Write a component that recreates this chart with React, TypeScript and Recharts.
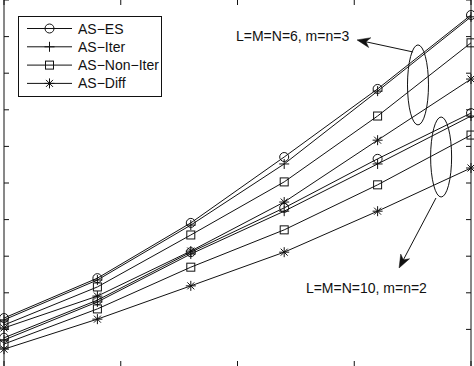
import React from 'react';
import {
    LineChart,
    Line,
    XAxis,
    YAxis,
    Legend,
    ReferenceDot,
    ReferenceLine,
} from 'recharts';

// x positions of the simulated points and the axis ticks
const xValues = [0, 4, 8, 12, 16, 20];
const xTicks = [0, 5, 10, 15, 20];
const yTicks = [0, 1, 2, 3, 4, 5, 6, 7, 8, 9, 10];

// L=M=N=6, m=n=3
const esA = [1.31, 2.4, 3.91, 5.71, 7.57, 9.59];
const iterA = [1.26, 2.35, 3.85, 5.52, 7.51, 9.54];
const nonIterA = [1.12, 2.16, 3.58, 5.03, 6.83, 8.83];
const diffA = [1.04, 1.91, 3.14, 4.48, 6.17, 7.84];

// L=M=N=10, m=n=2
const esB = [0.77, 1.8, 3.11, 4.32, 5.66, 6.91];
const iterB = [0.71, 1.75, 3.06, 4.23, 5.52, 6.83];
const nonIterB = [0.6, 1.56, 2.7, 3.72, 4.95, 6.31];
const diffB = [0.46, 1.28, 2.19, 3.11, 4.23, 5.41];

const legendNames = ['AS\u2212ES', 'AS\u2212Iter', 'AS\u2212Non\u2212Iter', 'AS\u2212Diff'];
const markerKinds = ['circle', 'plus', 'square', 'star'];

const INK = '#111';
const FONT = '"Liberation Sans", Arial, Helvetica, sans-serif';

const data = xValues.map((x, i) => ({
    x,
    esA: esA[i],
    iterA: iterA[i],
    nonIterA: nonIterA[i],
    diffA: diffA[i],
    esB: esB[i],
    iterB: iterB[i],
    nonIterB: nonIterB[i],
    diffB: diffB[i],
}));

const series = [
    { key: 'esA', kind: 'circle' },
    { key: 'iterA', kind: 'plus' },
    { key: 'nonIterA', kind: 'square' },
    { key: 'diffA', kind: 'star' },
    { key: 'esB', kind: 'circle' },
    { key: 'iterB', kind: 'plus' },
    { key: 'nonIterB', kind: 'square' },
    { key: 'diffB', kind: 'star' },
];

const Marker = ({ kind, cx, cy }: { kind: string; cx: number; cy: number }) => {
    const s = { stroke: INK, strokeWidth: 1, fill: 'none' };
    if (kind === 'circle') return <circle cx={cx} cy={cy} r={4.5} {...s} />;
    if (kind === 'square') return <rect x={cx - 4} y={cy - 4} width={8} height={8} {...s} />;
    if (kind === 'plus') return <path d={`M${cx - 5},${cy}H${cx + 5}M${cx},${cy - 5}V${cy + 5}`} {...s} />;
    const d = 3.5;
    return (
        <path
            d={`M${cx - 5},${cy}H${cx + 5}M${cx},${cy - 5}V${cy + 5}M${cx - d},${cy - d}L${cx + d},${cy + d}M${cx - d},${cy + d}L${cx + d},${cy - d}`}
            {...s}
        />
    );
};

const makeDot = (kind: string) => (props: any) => {
    const { cx, cy, index, dataKey } = props;
    if (cx == null || cy == null) return <g key={`${dataKey}-${index}`} />;
    return <g key={`${dataKey}-${index}`}><Marker kind={kind} cx={cx} cy={cy} /></g>;
};

const LegendBox = () => (
    <svg width={145} height={82} style={{ display: 'block' }}>
        <rect x={0.5} y={0.5} width={143} height={80} fill="#fff" stroke={INK} strokeWidth={1} />
        {legendNames.map((name, i) => {
            const y = 12.5 + i * 18.3;
            return (
                <g key={name}>
                    <line x1={9} x2={54} y1={y} y2={y} stroke={INK} strokeWidth={1} />
                    <Marker kind={markerKinds[i]} cx={31.5} cy={y} />
                    <text x={60} y={y} dominantBaseline="central" fontFamily={FONT} fontSize={14} fill={INK}>
                        {name}
                    </text>
                </g>
            );
        })}
    </svg>
);

const Arrow = (props: any) => {
    const { x1, y1, x2, y2 } = props;
    const ang = Math.atan2(y2 - y1, x2 - x1);
    const len = 13;
    const w = 5;
    const bx = x2 - len * Math.cos(ang);
    const by = y2 - len * Math.sin(ang);
    const nx = x2 - len * 0.7 * Math.cos(ang);
    const ny = y2 - len * 0.7 * Math.sin(ang);
    const px = -Math.sin(ang) * w;
    const py = Math.cos(ang) * w;
    return (
        <g>
            <line x1={x1} y1={y1} x2={nx} y2={ny} stroke={INK} strokeWidth={1} />
            <path d={`M${x2},${y2}L${bx + px},${by + py}L${nx},${ny}L${bx - px},${by - py}Z`} fill={INK} stroke={INK} strokeWidth={0.5} />
        </g>
    );
};

const ellipseShape = (props: any) => (
    <ellipse cx={props.cx} cy={props.cy} rx={10.5} ry={40} fill="none" stroke={INK} strokeWidth={1} />
);

const textShape = (label: string) => (props: any) => (
    <text x={props.cx} y={props.cy} textAnchor="middle" dominantBaseline="central" fontFamily={FONT} fontSize={14} fill={INK}>
        {label}
    </text>
);

const noLabel = () => <g />;

const axisCommon = {
    tick: noLabel,
    mirror: true,
    tickSize: 5,
    stroke: INK,
    axisLine: { stroke: INK, strokeWidth: 1 },
    tickLine: { stroke: INK, strokeWidth: 1 },
};

export default function App() {
    return (
        <div style={{ position: 'absolute', left: 0, top: 0, background: '#fff' }}>
            <LineChart width={474} height={366} data={data} margin={{ top: 0, right: 3, bottom: 0, left: 4 }}>
                <XAxis dataKey="x" type="number" domain={[0, 20]} ticks={xTicks} height={1} {...axisCommon} axisLine={false} />
                <XAxis
                    xAxisId="top"
                    orientation="top"
                    dataKey="x"
                    type="number"
                    domain={[0, 20]}
                    ticks={xTicks}
                    height={1}
                    {...axisCommon}
                    axisLine={false}
                />
                <YAxis type="number" domain={[0, 10]} ticks={yTicks} width={1} {...axisCommon} />
                <YAxis
                    yAxisId="right"
                    orientation="right"
                    type="number"
                    domain={[0, 10]}
                    ticks={yTicks}
                    width={1}
                    {...axisCommon}
                />
                {series.map((s) => (
                    <Line
                        key={s.key}
                        type="linear"
                        dataKey={s.key}
                        stroke={INK}
                        strokeWidth={1}
                        dot={makeDot(s.kind)}
                        activeDot={false}
                        isAnimationActive={false}
                        legendType="none"
                    />
                ))}
                {/* invisible series so the top and right axes have data bound to them */}
                <Line
                    xAxisId="top"
                    yAxisId="right"
                    dataKey="esA"
                    stroke="none"
                    dot={false}
                    activeDot={false}
                    isAnimationActive={false}
                    legendType="none"
                />
                <ReferenceDot x={17.73} y={7.68} shape={ellipseShape} />
                <ReferenceDot x={18.72} y={5.71} shape={ellipseShape} />
                <ReferenceLine segment={[{ x: 17.52, y: 8.58 }, { x: 15.12, y: 8.91 }]} shape={Arrow} />
                <ReferenceLine segment={[{ x: 18.5, y: 4.59 }, { x: 16.92, y: 2.68 }]} shape={Arrow} />
                <ReferenceDot x={12.36} y={9.02} shape={textShape('L=M=N=6, m=n=3')} />
                <ReferenceDot x={15.52} y={2.13} shape={textShape('L=M=N=10, m=n=2')} />
                <Legend
                    layout="horizontal"
                    verticalAlign="middle"
                    align="center"
                    content={() => <LegendBox />}
                    wrapperStyle={{ left: 18, top: 16, width: 145, height: 82 }}
                />
            </LineChart>
        </div>
    );
}
